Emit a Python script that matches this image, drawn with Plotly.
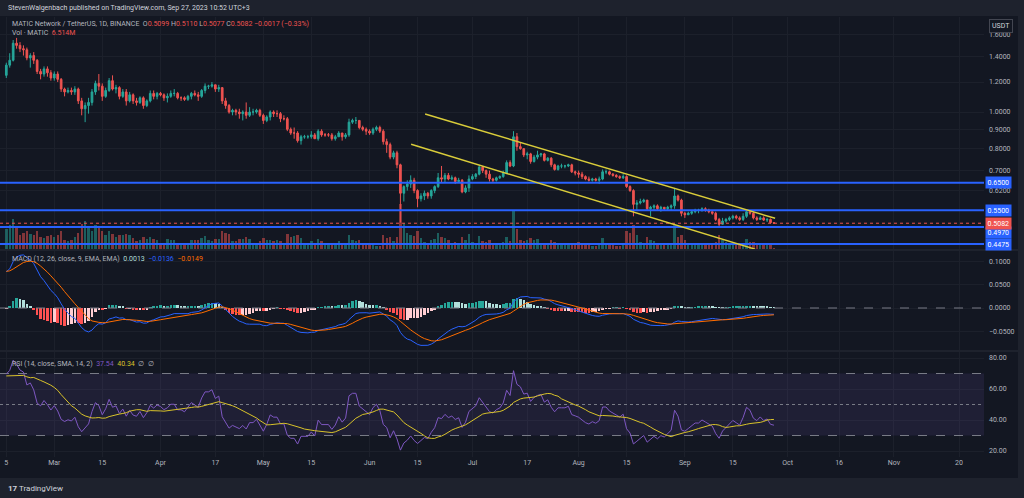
import numpy as np
import pandas as pd
import plotly.graph_objects as go

# ---------------- data ----------------
dates = pd.date_range("2023-02-15", "2023-09-27", freq="D")
first_open = 1.25

close_feb = [1.33,1.37,1.52,1.50,1.47,1.46,1.39,1.41,1.37,1.28,1.26,1.30,1.27,1.23]
high_feb  = [1.35,1.43,1.55,1.57,1.53,1.50,1.48,1.43,1.44,1.38,1.30,1.32,1.32,1.29]
low_feb   = [1.23,1.31,1.36,1.47,1.44,1.41,1.37,1.31,1.34,1.26,1.22,1.24,1.24,1.21]

close_mar = [1.26,1.22,1.15,1.13,1.14,1.13,1.15,1.07,1.02,1.04,1.06,1.13,1.19,1.17,1.10,1.14,1.21,1.15,1.16,1.10,1.13,1.07,1.11,1.07,1.06,1.09,1.04,1.07,1.12,1.10,1.12]
high_mar  = [1.28,1.28,1.23,1.16,1.16,1.16,1.17,1.16,1.09,1.06,1.09,1.15,1.21,1.26,1.19,1.16,1.23,1.25,1.18,1.17,1.15,1.15,1.13,1.12,1.09,1.10,1.10,1.08,1.14,1.14,1.13]
low_mar   = [1.21,1.20,1.13,1.10,1.12,1.11,1.11,1.05,0.98,0.94,0.99,1.04,1.11,1.14,1.07,1.09,1.13,1.14,1.12,1.08,1.09,1.04,1.06,1.05,1.04,1.05,1.02,1.03,1.06,1.08,1.08]

close_apr = [1.11,1.09,1.10,1.12,1.12,1.09,1.09,1.08,1.10,1.12,1.11,1.10,1.14,1.17,1.17,1.18,1.15,1.16,1.07,1.04,1.00,1.01,1.00,0.99,1.00,0.98,1.00,1.00,1.01,0.98]
high_apr  = [1.13,1.12,1.12,1.14,1.15,1.13,1.10,1.10,1.11,1.13,1.14,1.13,1.15,1.19,1.18,1.20,1.18,1.18,1.16,1.09,1.05,1.02,1.02,1.02,1.01,1.06,1.03,1.02,1.02,1.02]
low_apr   = [1.10,1.07,1.06,1.09,1.10,1.08,1.07,1.07,1.07,1.08,1.10,1.07,1.09,1.12,1.15,1.16,1.13,1.13,1.05,1.02,0.99,0.98,0.98,0.96,0.95,0.96,0.97,0.98,0.99,0.97]

close_may = [0.95,0.97,1.00,0.99,0.99,0.96,0.96,0.90,0.88,0.88,0.84,0.86,0.86,0.86,0.87,0.85,0.89,0.87,0.87,0.87,0.85,0.86,0.88,0.86,0.87,0.94,0.95,0.95,0.91,0.90,0.89]
high_may  = [0.99,0.98,1.01,1.01,1.01,1.00,0.98,0.97,0.91,0.91,0.89,0.87,0.87,0.87,0.89,0.88,0.90,0.90,0.88,0.88,0.88,0.87,0.89,0.88,0.88,0.96,0.96,0.97,0.95,0.92,0.91]
low_may   = [0.93,0.94,0.95,0.97,0.97,0.94,0.95,0.89,0.87,0.85,0.83,0.82,0.85,0.85,0.85,0.85,0.84,0.86,0.86,0.86,0.84,0.84,0.86,0.84,0.85,0.86,0.93,0.93,0.90,0.89,0.87]

close_jun = [0.88,0.90,0.91,0.89,0.835,0.82,0.76,0.78,0.725,0.61,0.635,0.645,0.66,0.62,0.59,0.60,0.61,0.60,0.62,0.635,0.67,0.665,0.68,0.665,0.67,0.655,0.66,0.615,0.63,0.665]
high_jun  = [0.90,0.91,0.92,0.92,0.90,0.85,0.83,0.79,0.79,0.73,0.64,0.66,0.68,0.67,0.625,0.61,0.62,0.615,0.625,0.64,0.69,0.72,0.69,0.69,0.68,0.675,0.67,0.665,0.64,0.68]
low_jun   = [0.87,0.87,0.89,0.88,0.82,0.78,0.75,0.75,0.71,0.51,0.58,0.62,0.63,0.61,0.56,0.58,0.585,0.59,0.59,0.61,0.63,0.65,0.65,0.66,0.66,0.645,0.65,0.61,0.61,0.615]

close_jul = [0.675,0.685,0.715,0.70,0.685,0.665,0.66,0.67,0.675,0.69,0.735,0.72,0.86,0.81,0.80,0.77,0.775,0.74,0.76,0.77,0.775,0.745,0.755,0.725,0.705,0.72,0.72,0.72,0.725,0.695,0.69]
high_jul  = [0.685,0.69,0.725,0.72,0.705,0.70,0.67,0.675,0.68,0.70,0.745,0.745,0.89,0.88,0.83,0.80,0.785,0.78,0.77,0.79,0.78,0.78,0.76,0.76,0.73,0.725,0.73,0.725,0.73,0.73,0.70]
low_jul   = [0.66,0.665,0.68,0.69,0.67,0.655,0.65,0.655,0.665,0.67,0.685,0.715,0.715,0.79,0.795,0.76,0.75,0.73,0.735,0.75,0.76,0.74,0.74,0.715,0.70,0.70,0.71,0.71,0.715,0.69,0.68]

close_aug = [0.685,0.675,0.665,0.66,0.665,0.66,0.665,0.695,0.695,0.685,0.68,0.675,0.67,0.675,0.635,0.62,0.57,0.575,0.58,0.585,0.555,0.56,0.565,0.555,0.56,0.555,0.56,0.565,0.60,0.585,0.54]
high_aug  = [0.70,0.695,0.68,0.675,0.67,0.67,0.675,0.705,0.705,0.70,0.69,0.685,0.68,0.685,0.68,0.64,0.625,0.585,0.59,0.59,0.585,0.565,0.57,0.57,0.565,0.56,0.565,0.57,0.63,0.605,0.59]
low_aug   = [0.67,0.665,0.66,0.655,0.655,0.655,0.645,0.66,0.685,0.68,0.675,0.67,0.665,0.665,0.63,0.615,0.53,0.55,0.57,0.575,0.55,0.53,0.55,0.55,0.545,0.55,0.55,0.55,0.555,0.58,0.53]

close_sep = [0.535,0.54,0.545,0.55,0.55,0.555,0.55,0.545,0.54,0.52,0.505,0.515,0.52,0.525,0.53,0.525,0.52,0.53,0.545,0.54,0.525,0.52,0.525,0.518,0.52,0.5099,0.5082]
high_sep  = [0.545,0.545,0.55,0.555,0.555,0.56,0.56,0.555,0.545,0.545,0.525,0.525,0.525,0.53,0.535,0.535,0.53,0.54,0.55,0.55,0.545,0.53,0.53,0.53,0.525,0.523,0.511]
low_sep   = [0.525,0.535,0.535,0.54,0.54,0.545,0.545,0.54,0.535,0.515,0.494,0.505,0.51,0.515,0.52,0.52,0.515,0.515,0.525,0.535,0.52,0.515,0.518,0.515,0.512,0.507,0.5077]

# volume in millions of MATIC
vol_feb = [250,300,380,260,180,200,220,190,170,230,150,140,160,180]
vol_mar = [150,170,230,110,100,110,150,200,310,350,260,220,300,270,220,170,230,190,150,180,170,190,170,140,100,110,150,120,150,120,110]
vol_apr = [80,80,120,110,110,80,70,55,70,110,110,110,140,160,110,100,120,120,230,200,190,100,100,120,120,150,120,80,70,100]
vol_may = [140,110,110,100,110,100,80,190,150,160,170,140,55,55,100,80,120,100,70,55,55,80,100,80,80,170,110,100,110,80,80]
vol_jun = [60,60,40,40,170,140,150,100,150,560,330,200,170,160,230,140,90,80,110,130,200,150,140,110,70,90,80,150,110,190]
vol_jul = [90,70,160,100,90,110,80,60,60,90,150,100,480,250,110,100,110,140,110,120,80,70,60,110,90,70,70,60,50,80,70]
vol_aug = [90,80,70,60,40,40,70,140,80,60,50,40,40,60,230,200,300,170,90,70,150,110,100,80,70,50,50,80,300,150,170]
vol_sep = [110,60,60,80,70,70,70,60,60,90,170,110,90,80,70,60,50,80,130,90,90,80,50,50,70,60,6.514]

# closes before the visible window (only used to seed the indicators)
closes_before = [0.76,0.77,0.77,0.80,0.77,0.79,0.79,0.83,0.86,0.88,0.91,0.92,0.97,1.00,0.99,1.00,0.97,0.90,0.95,1.03,
                 1.02,1.01,1.04,0.99,1.03,1.04,1.05,1.05,1.10,1.04,1.12,1.16,1.16,1.19,1.22,1.20,1.21,1.26,1.24,1.14,
                 1.18,1.25,1.25,1.22,1.25]

levels_blue = [0.65, 0.55, 0.497, 0.4475]
label_shift = {0.65: 0, 0.55: 0, 0.497: -6, 0.4475: 0}
last_price = 0.5082
channel_upper = (("2023-06-17 05:00", 0.988), ("2023-09-27 08:00", 0.5236))
channel_lower = (("2023-06-13 03:00", 0.8215), ("2023-09-21 12:00", 0.434))

price_ticks = [1.6, 1.4, 1.2, 1.0, 0.9, 0.8, 0.7, 0.62]
macd_ticks = [0.1, 0.05, 0.0, -0.05]
macd_tick_text = ["0.1000", "0.0500", "0.0000", "\u22120.0500"]
rsi_ticks = [80, 60, 40, 20]
x_tick_dates = ["2023-02-15","2023-03-01","2023-03-15","2023-04-01","2023-04-17","2023-05-01","2023-05-15",
                "2023-06-01","2023-06-15","2023-07-01","2023-07-17","2023-08-01","2023-08-15","2023-09-01",
                "2023-09-15","2023-10-01","2023-10-16","2023-11-01","2023-11-20"]
x_tick_text = ["5","Mar","15","Apr","17","May","15","Jun","15","Jul","17","Aug","15","Sep","15","Oct","16","Nov","20"]

# ---------------- assemble ----------------
close = np.array(close_feb+close_mar+close_apr+close_may+close_jun+close_jul+close_aug+close_sep)
high = np.array(high_feb+high_mar+high_apr+high_may+high_jun+high_jul+high_aug+high_sep)
low = np.array(low_feb+low_mar+low_apr+low_may+low_jun+low_jul+low_aug+low_sep)
vol = np.array(vol_feb+vol_mar+vol_apr+vol_may+vol_jun+vol_jul+vol_aug+vol_sep)
assert len(close) == len(dates) == len(high) == len(low) == len(vol)
opn = np.concatenate([[first_open], close[:-1]])   # crypto daily open = previous close
high = np.maximum(high, np.maximum(opn, close))
low = np.minimum(low, np.minimum(opn, close))

# indicators (computed as TradingView does)
allc = np.concatenate([closes_before, close])
nb = len(closes_before)

def ema(x, n):
    out = np.full(len(x), np.nan)
    start = np.where(~np.isnan(x))[0][0]
    out[start+n-1] = np.mean(x[start:start+n])
    a = 2.0/(n+1)
    for i in range(start+n, len(x)):
        out[i] = a*x[i] + (1-a)*out[i-1]
    return out

def rma(x, n):
    out = np.full(len(x), np.nan)
    start = np.where(~np.isnan(x))[0][0]
    out[start+n-1] = np.mean(x[start:start+n])
    for i in range(start+n, len(x)):
        out[i] = (x[i] + (n-1)*out[i-1]) / n
    return out

macd_all = ema(allc, 12) - ema(allc, 26)
sig_all = ema(macd_all, 9)
hist_all = macd_all - sig_all
d = np.diff(allc, prepend=np.nan)
up = np.where(np.isnan(d), np.nan, np.maximum(d, 0))
dn = np.where(np.isnan(d), np.nan, np.maximum(-d, 0))
ru, rd = rma(up, 14), rma(dn, 14)
rsi_all = 100 - 100/(1 + ru/rd)
rsi_ma_all = pd.Series(rsi_all).rolling(14).mean().values

macd = macd_all[nb:]; sig = sig_all[nb:]; hist = hist_all[nb:]
prev_hist = hist_all[nb-1:-1]
rsi = rsi_all[nb:]; rsi_ma = rsi_ma_all[nb:]
hist_col = []
for h, p in zip(hist, prev_hist):
    if h >= 0:
        hist_col.append("#26a69a" if h > p else "#b2dfdb")
    else:
        hist_col.append("#ffcdd2" if h > p else "#ff5252")

# ---------------- layout geometry ----------------
W, H = 1024, 498
ML, MR, MT, MB = 0, 40, 17, 41
PW, PH = W - ML - MR, H - MT - MB
def fx(px): return (px - ML) / PW
def fy(py): return (H - MB - py) / PH

BG = "#131722"
PAGE = "#1e222d"
GRID = "#1c202b"
TXT = "#b2b5be"
FONT = "Roboto"
x0, x1 = pd.Timestamp("2023-02-13 03:50"), pd.Timestamp("2023-11-27 07:00")

fig = go.Figure()

# volume (base axis y, hidden)
vcol = ["rgba(38,166,154,0.5)" if c >= o else "rgba(239,83,80,0.5)" for o, c in zip(opn, close)]
fig.add_trace(go.Bar(x=dates, y=vol, marker=dict(color=vcol, line=dict(width=0)),
                     width=0.7*86400000, xaxis="x", yaxis="y", hoverinfo="skip"))
# candles
fig.add_trace(go.Candlestick(x=dates, open=opn, high=high, low=low, close=close,
                             increasing=dict(line=dict(color="#26a69a", width=1), fillcolor="#26a69a"),
                             decreasing=dict(line=dict(color="#ef5350", width=1), fillcolor="#ef5350"),
                             whiskerwidth=0, xaxis="x", yaxis="y4", hoverinfo="skip"))
# last price dotted
fig.add_trace(go.Scatter(x=[x0, x1], y=[last_price, last_price], mode="lines",
                         line=dict(color="#ef5350", width=1, dash="dot"), xaxis="x", yaxis="y4", hoverinfo="skip"))
# horizontal levels
for lv in levels_blue:
    fig.add_trace(go.Scatter(x=[x0, x1], y=[lv, lv], mode="lines", line=dict(color="#2962ff", width=2),
                             xaxis="x", yaxis="y4", hoverinfo="skip"))
# channel
for (a, b) in (channel_upper, channel_lower):
    fig.add_trace(go.Scatter(x=[a[0], b[0]], y=[a[1], b[1]], mode="lines",
                             line=dict(color="#d9cc3a", width=1.5), xaxis="x", yaxis="y4", hoverinfo="skip"))

# MACD
fig.add_trace(go.Bar(x=dates, y=hist, marker=dict(color=hist_col, line=dict(width=0)),
                     width=0.75*86400000, xaxis="x2", yaxis="y2", hoverinfo="skip"))
fig.add_trace(go.Scatter(x=[x0, x1], y=[0, 0], mode="lines", line=dict(color="#787b86", width=1, dash="dash"),
                         xaxis="x2", yaxis="y2", hoverinfo="skip"))
fig.add_trace(go.Scatter(x=dates, y=macd, mode="lines", line=dict(color="#2962ff", width=1),
                         xaxis="x2", yaxis="y2", hoverinfo="skip"))
fig.add_trace(go.Scatter(x=dates, y=sig, mode="lines", line=dict(color="#ff6d00", width=1),
                         xaxis="x2", yaxis="y2", hoverinfo="skip"))

# RSI
fig.add_trace(go.Scatter(x=[x0, x1, x1, x0], y=[30, 30, 70, 70], fill="toself", mode="none",
                         fillcolor="rgba(126,87,194,0.12)", xaxis="x3", yaxis="y3", hoverinfo="skip"))
for lv, dash in ((70, "dash"), (50, "dot"), (30, "dash")):
    fig.add_trace(go.Scatter(x=[x0, x1], y=[lv, lv], mode="lines", line=dict(color="#787b86", width=1, dash=dash),
                             xaxis="x3", yaxis="y3", hoverinfo="skip"))
fig.add_trace(go.Scatter(x=dates, y=rsi, mode="lines", line=dict(color="#7e57c2", width=1),
                         xaxis="x3", yaxis="y3", hoverinfo="skip"))
fig.add_trace(go.Scatter(x=dates, y=rsi_ma, mode="lines", line=dict(color="#d8c22a", width=1),
                         xaxis="x3", yaxis="y3", hoverinfo="skip"))

xcommon = dict(range=[x0, x1], type="date", tickvals=x_tick_dates, ticktext=x_tick_text,
               showgrid=True, gridcolor=GRID, gridwidth=1, zeroline=False, showline=False, ticks="",
               tickfont=dict(family=FONT, size=7, color=TXT), fixedrange=True)
ycommon = dict(side="right", showgrid=True, gridcolor=GRID, zeroline=False, showline=False, ticks="",
               tickfont=dict(family=FONT, size=7, color=TXT), ticklabelstandoff=4, fixedrange=True)

price_dom = [fy(249), fy(MT)]
macd_dom = [fy(350), fy(251)]
rsi_dom = [fy(H - MB), fy(352)]

fig.update_layout(
    width=W, height=H, margin=dict(l=ML, r=MR, t=MT, b=MB, autoexpand=False),
    paper_bgcolor=PAGE, plot_bgcolor=BG, showlegend=False, bargap=0,
    xaxis=dict(xcommon, anchor="y", showticklabels=False, rangeslider=dict(visible=False)),
    xaxis2=dict(xcommon, anchor="y2", matches="x", showticklabels=False),
    xaxis3=dict(xcommon, anchor="y3", matches="x", showticklabels=True),
    yaxis=dict(domain=price_dom, range=[0, 2900], visible=False, showgrid=False, fixedrange=True),
    yaxis4=dict(ycommon, overlaying="y", anchor="x", type="log", range=[-0.3621, 0.2511],
                tickvals=price_ticks, ticktext=[f"{v:.4f}" for v in price_ticks]),
    yaxis2=dict(ycommon, domain=macd_dom, anchor="x2", range=[-0.0901, 0.1223],
                tickvals=macd_ticks, ticktext=macd_tick_text),
    yaxis3=dict(ycommon, domain=rsi_dom, anchor="x3", range=[16.13, 83.87],
                tickvals=rsi_ticks, ticktext=[f"{v:.2f}" for v in rsi_ticks]),
)

shapes = [
    dict(type="rect", xref="paper", yref="paper", x0=fx(0), x1=fx(1018), y0=fy(478), y1=fy(16),
         fillcolor=BG, line=dict(width=0), layer="below"),
    dict(type="line", xref="paper", yref="paper", x0=fx(0), x1=fx(1018), y0=fy(250), y1=fy(250),
         line=dict(color="#2a2e39", width=1)),
    dict(type="line", xref="paper", yref="paper", x0=fx(0), x1=fx(1018), y0=fy(351), y1=fy(351),
         line=dict(color="#2a2e39", width=1)),
]
fig.update_layout(shapes=shapes)

def ann(px, py, text, size=7, color="#d1d4dc", xanchor="left", **kw):
    return dict(x=fx(px), y=fy(py), xref="paper", yref="paper", text=text, showarrow=False,
                xanchor=xanchor, yanchor="middle", font=dict(family=FONT, size=size, color=color), **kw)

R = "#ef5350"
def red(s): return f"<span style='color:{R}'>{s}</span>"
anns = [
    ann(6, 8, "StevenWalgenbach published on TradingView.com, Sep 27, 2023 10:52 UTC+3", color="#d1d4dc"),
    ann(10, 24, "MATIC Network / TetherUS, 1D, BINANCE  O" + red("0.5099") + " H" + red("0.5110") +
        " L" + red("0.5077") + " C" + red("0.5082") + " " + red("\u22120.0017 (\u22120.33%)"), color="#b2b5be"),
    ann(10, 33, "Vol \u00b7 MATIC  " + red("6.514M"), color="#b2b5be"),
    ann(10, 259, "MACD (12, 26, close, 9, EMA, EMA)  <span style='color:#b2dfdb'>0.0013</span>  "
        "<span style='color:#2962ff'>\u22120.0136</span>  <span style='color:#ff6d00'>\u22120.0149</span>",
        color="#b2b5be"),
    ann(10, 364, "RSI (14, close, SMA, 14, 2)  <span style='color:#7e57c2'>37.54</span>  "
        "<span style='color:#d8c22a'>40.34</span>  \u2205  \u2205", color="#b2b5be"),
    ann(6, 488, "<b>17</b> TradingView", size=8, color="#d1d4dc"),
    dict(x=fx(1001), y=fy(26), xref="paper", yref="paper", text="USDT", showarrow=False,
         font=dict(family=FONT, size=7, color="#d1d4dc"), bgcolor=BG, bordercolor="#434651",
         borderwidth=1, borderpad=2, xanchor="center", yanchor="middle"),
]
for lv in levels_blue:
    anns.append(dict(x=1, xref="paper", y=np.log10(lv), yref="y4", text=f"{lv:.4f}", showarrow=False,
                     xanchor="left", yanchor="middle", xshift=1, yshift=label_shift[lv],
                     bgcolor="#2962ff", borderpad=1.5,
                     font=dict(family=FONT, size=7, color="#ffffff")))
anns.append(dict(x=1, xref="paper", y=np.log10(last_price), yref="y4", text=f"{last_price:.4f}", showarrow=False,
                 xanchor="left", yanchor="middle", xshift=1, bgcolor=R, borderpad=1.5,
                 font=dict(family=FONT, size=7, color="#ffffff")))
fig.update_layout(annotations=anns)

fig.write_html("out.html")
